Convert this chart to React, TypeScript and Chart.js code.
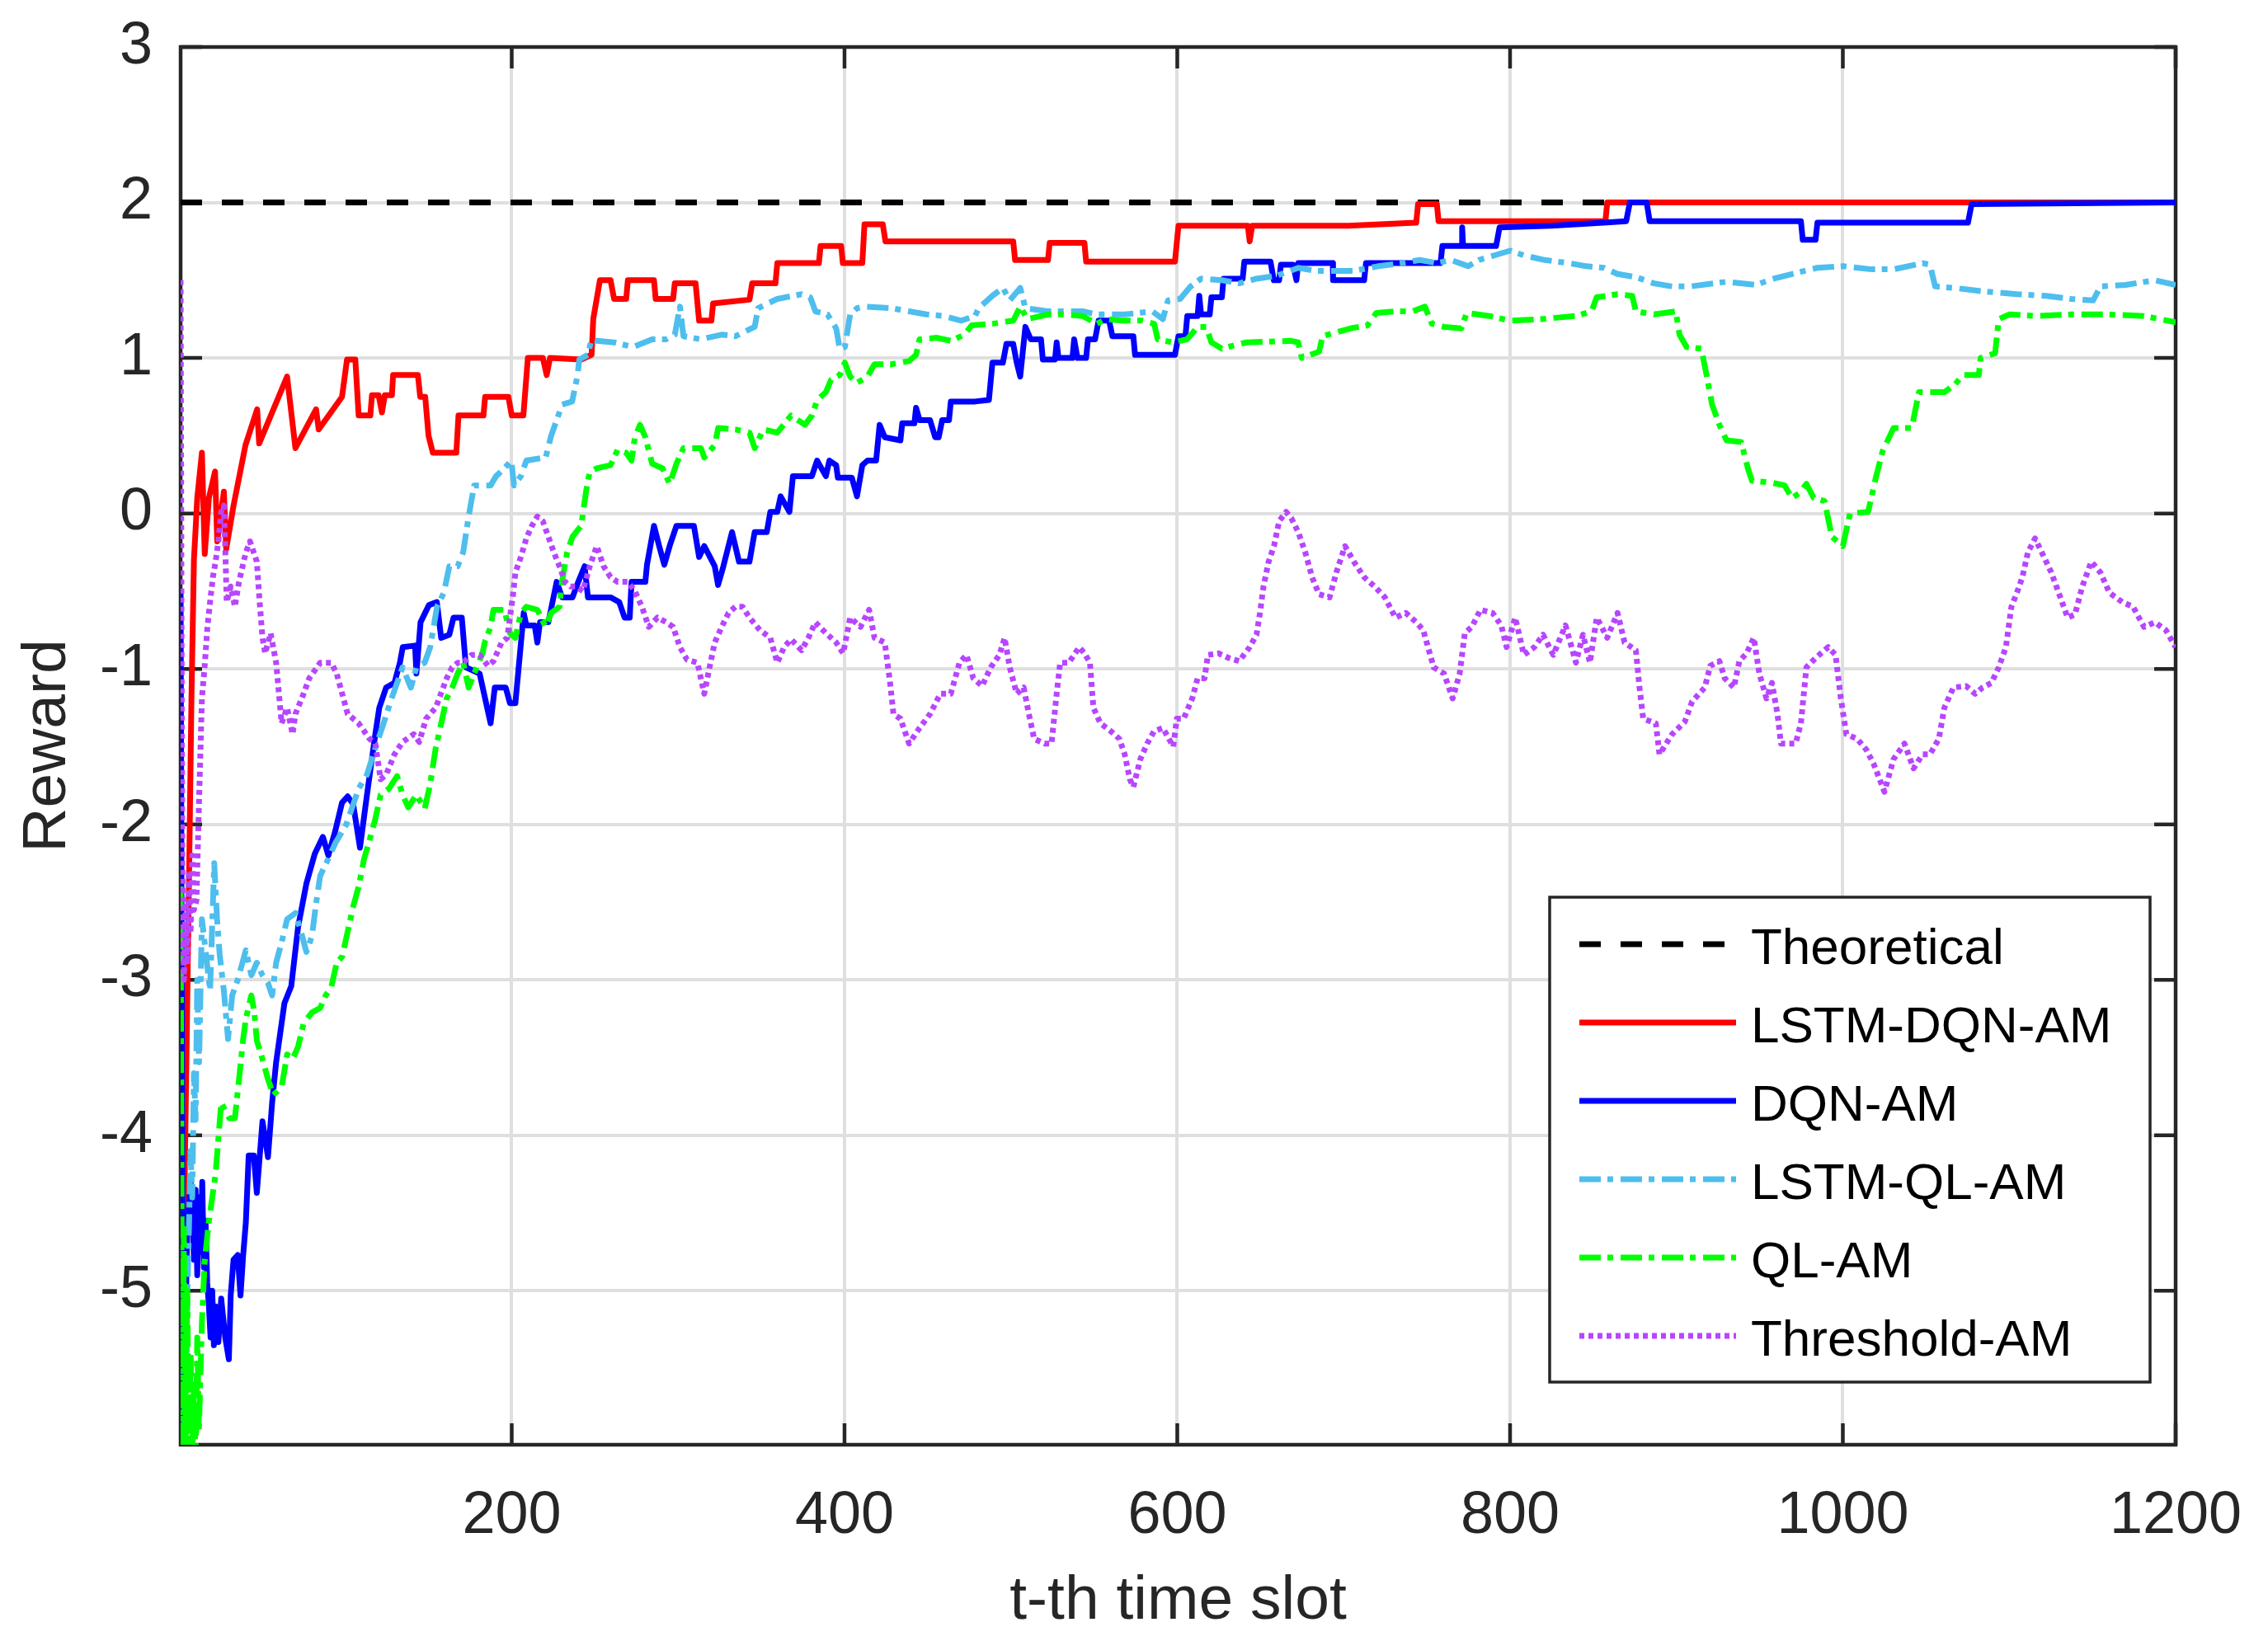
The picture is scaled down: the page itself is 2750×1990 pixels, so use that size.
import React, { useEffect, useRef } from "react";
import { Chart, registerables } from "chart.js";

Chart.register(...registerables);

const xTicks = [200, 400, 600, 800, 1000, 1200];
const yTicks = [-5, -4, -3, -2, -1, 0, 1, 2, 3];

const theoretical: number[][] = [[1, 2], [1200, 2]];

const lstmDqnAm: number[][] = [
  [1, -5.2], [3, -4.6], [4.5, -3.5], [6, -2.4], [7.5, -1.2], [9, -0.3], [11, 0.1], [13.8, 0.39], [15.5, -0.26], [18, 0.1],
  [21.7, 0.27], [23, -0.18], [27, 0.14], [28.4, -0.23], [32.8, 0.05], [40, 0.44], [47, 0.67], [48.2, 0.45], [65, 0.88], [70, 0.42],
  [82.4, 0.67], [84, 0.54], [98, 0.75], [101, 0.99], [106, 0.99], [108, 0.63], [115, 0.63], [116, 0.76], [120, 0.76], [122, 0.65],
  [123.7, 0.76], [128, 0.76], [128.7, 0.89], [143.6, 0.89], [145, 0.75], [148, 0.75], [150, 0.5], [152.6, 0.39], [166.7, 0.39], [168, 0.63],
  [183, 0.63], [184, 0.75], [198, 0.75], [200, 0.63], [207, 0.63], [209.7, 1.0], [218.7, 1.0], [221, 0.89], [223, 1.0], [241.7, 0.99],
  [248, 1.02], [249, 1.25], [253, 1.5], [259.4, 1.5], [261.5, 1.38], [268.8, 1.38], [269.8, 1.5], [285.5, 1.5], [286.5, 1.38], [297, 1.38],
  [298, 1.48], [310.5, 1.48], [312.6, 1.24], [320, 1.24], [321, 1.35], [342.9, 1.375], [344.5, 1.48], [358.5, 1.48], [359.6, 1.61], [384.6, 1.61],
  [385.6, 1.72], [398, 1.72], [399, 1.61], [410.7, 1.61], [412, 1.86], [423, 1.86], [424.6, 1.75], [501.4, 1.75], [502.5, 1.63], [522.3, 1.63],
  [523.3, 1.74], [544.2, 1.74], [545.2, 1.62], [598.6, 1.62], [600.7, 1.85], [642.4, 1.85], [643.5, 1.75], [645, 1.85], [703, 1.85], [743.6, 1.87],
  [744.7, 1.99], [756, 1.99], [757, 1.88], [857.3, 1.88], [858.4, 2.0], [1200, 2.0],
];

const dqnAm: number[][] = [
  [1, -0.5], [2.5, -5.8], [4, -5.2], [5, -4.6], [7, -4.3], [8, -4.4], [9, -4.8], [10, -4.35], [11, -4.9], [12, -4.4],
  [13, -4.75], [14, -4.3], [15, -4.85], [16, -4.55], [17, -4.95], [18, -5.1], [19, -5.3], [20, -5.0], [21, -5.35], [22, -5.1],
  [23.7, -5.33], [25.4, -5.05], [27.8, -5.3], [30, -5.44], [31.1, -5.03], [32.8, -4.8], [35.3, -4.77], [37, -5.03], [38.6, -4.77], [40.2, -4.56],
  [41.9, -4.13], [45, -4.13], [46.8, -4.37], [50.2, -3.91], [53.5, -4.14], [56, -3.79], [58.4, -3.53], [63.4, -3.15], [67.5, -3.04], [71.6, -2.66],
  [76.6, -2.38], [81.6, -2.19], [86.5, -2.08], [89.8, -2.2], [94, -2.04], [98, -1.86], [101.4, -1.82], [104.7, -1.87], [108.8, -2.15], [113, -1.81],
  [118, -1.42], [120.4, -1.25], [124.5, -1.12], [129.5, -1.09], [132.8, -0.96], [134.5, -0.86], [141.9, -0.85], [142.7, -1.03], [145.2, -0.7], [150.2, -0.59],
  [155, -0.57], [157.6, -0.8], [162.5, -0.78], [165, -0.67], [170, -0.67], [172.5, -0.99], [180.7, -1.03], [184, -1.19], [187.3, -1.35], [189.8, -1.12],
  [196.4, -1.12], [198.9, -1.22], [202.2, -1.22], [207.2, -0.64], [208.8, -0.72], [213.8, -0.72], [215.4, -0.83], [217, -0.7], [222, -0.7], [227, -0.44],
  [230.3, -0.54], [236.5, -0.54], [240, -0.44], [243.8, -0.34], [245.8, -0.54], [259.4, -0.54], [264.6, -0.57], [267.8, -0.67], [270.9, -0.67], [272, -0.44],
  [280.3, -0.44], [281.3, -0.33], [285.5, -0.08], [288.6, -0.21], [291.7, -0.33], [294.9, -0.21], [299, -0.08], [309.5, -0.08], [312.6, -0.28], [315.7, -0.21],
  [322, -0.34], [324, -0.46], [327.2, -0.34], [332.4, -0.12], [336.6, -0.31], [342.9, -0.31], [346, -0.12], [353.3, -0.12], [355.4, 0.01], [359.6, 0.01],
  [361.6, 0.11], [366.9, 0.01], [369, 0.24], [380.4, 0.24], [383.5, 0.34], [388.8, 0.24], [390.9, 0.34], [395, 0.31], [396, 0.23], [404.4, 0.23],
  [407.5, 0.11], [410.7, 0.31], [413.8, 0.34], [419, 0.34], [421.1, 0.57], [424.2, 0.49], [433.6, 0.47], [434.7, 0.58], [442, 0.58], [443, 0.68],
  [445.1, 0.6], [451.4, 0.6], [454.5, 0.49], [456.6, 0.49], [458.7, 0.6], [462.8, 0.6], [463.9, 0.72], [478.5, 0.72], [486.8, 0.73], [488.9, 0.97],
  [495.2, 0.97], [497.3, 1.09], [501.4, 1.09], [503.5, 0.97], [505.6, 0.88], [508.7, 1.2], [511.9, 1.12], [518.1, 1.12], [519.2, 0.99], [526.5, 0.99],
  [527.5, 1.1], [528.6, 1.0], [537, 1.0], [538, 1.12], [540, 1.0], [545.2, 1.0], [546.3, 1.12], [550.6, 1.12], [552.7, 1.24], [559, 1.24],
  [561, 1.14], [573.6, 1.14], [574.6, 1.02], [598.6, 1.02], [600.7, 1.14], [604.9, 1.14], [606, 1.27], [612.2, 1.27], [613.2, 1.4], [614.3, 1.28],
  [619.5, 1.28], [620.5, 1.39], [626.8, 1.39], [627.8, 1.51], [639.3, 1.51], [640.3, 1.62], [656, 1.62], [658, 1.5], [661.2, 1.5], [662.3, 1.6],
  [669.6, 1.6], [671.6, 1.5], [672.7, 1.61], [693.5, 1.61], [693.6, 1.5], [712.3, 1.5], [713.4, 1.61], [758.2, 1.61], [759.3, 1.72], [770.8, 1.72],
  [771.2, 1.84], [771.8, 1.72], [791.6, 1.72], [793.7, 1.84], [825, 1.85], [856.3, 1.87], [869.8, 1.88], [872, 2.0], [882.1, 2.0], [883.9, 1.88],
  [974.8, 1.88], [975.9, 1.76], [983.6, 1.76], [984.7, 1.87], [1075.2, 1.87], [1077.4, 1.99], [1200, 2.0],
];

const lstmQlAm: number[][] = [
  [1, -6.5], [3, -6.0], [4.7, -5.2], [6, -4.6], [7, -4.1], [8, -4.4], [9, -3.6], [10, -3.9], [11, -3.0], [12.1, -3.53],
  [13.8, -2.61], [16.3, -2.84], [18.7, -3.07], [21.2, -2.25], [22.9, -2.61], [24.5, -2.84], [27, -3.07], [29.5, -3.38], [32, -3.1], [35.3, -3.0],
  [40.2, -2.81], [43.5, -2.97], [46.8, -2.89], [50.2, -2.97], [53.5, -3.02], [56, -3.1], [58.4, -2.89], [61.7, -2.76], [65, -2.61], [70, -2.57],
  [73.3, -2.69], [76.6, -2.82], [79.9, -2.72], [82.4, -2.51], [84.9, -2.33], [89.8, -2.22], [94, -2.12], [100.6, -2.0], [108, -1.77], [113, -1.68],
  [118, -1.51], [123, -1.35], [127.8, -1.19], [134.4, -0.99], [139.4, -1.12], [142.7, -0.99], [147.7, -0.96], [151, -0.86], [155.1, -0.6], [159.2, -0.51],
  [162.5, -0.34], [167.5, -0.34], [170.8, -0.25], [174.1, -0.02], [177.4, 0.18], [187.3, 0.18], [190.6, 0.24], [195.6, 0.29], [199.7, 0.34], [201.4, 0.18],
  [205.5, 0.24], [208.8, 0.34], [220.4, 0.36], [223.7, 0.5], [227, 0.6], [230.3, 0.7], [236.3, 0.72], [239.6, 0.89], [240.6, 0.99], [245.8, 1.02],
  [247.9, 1.12], [251, 1.11], [261.5, 1.1], [273, 1.07], [284.4, 1.12], [292.8, 1.12], [298, 1.15], [301.1, 1.33], [303.2, 1.14], [313.7, 1.12],
  [326.2, 1.15], [334.5, 1.14], [346, 1.2], [348.1, 1.32], [359.6, 1.38], [374.2, 1.41], [379.4, 1.39], [382.5, 1.3], [389.8, 1.28], [395, 1.19],
  [397.1, 1.06], [400.2, 1.07], [403.4, 1.28], [407.5, 1.32], [411.7, 1.33], [428.4, 1.32], [438.8, 1.3], [449.3, 1.28], [459.7, 1.27], [470.1, 1.24],
  [478.5, 1.27], [480.6, 1.32], [488.9, 1.4], [495.2, 1.45], [499.3, 1.37], [505.6, 1.45], [508.7, 1.32], [522.3, 1.3], [543.2, 1.3], [551.5, 1.28],
  [568.4, 1.28], [585, 1.3], [591.3, 1.25], [594.4, 1.37], [601.7, 1.38], [608, 1.46], [614.3, 1.51], [626.8, 1.5], [637.2, 1.48], [647.6, 1.51],
  [660.2, 1.53], [672.7, 1.58], [683.1, 1.56], [706.1, 1.56], [720.7, 1.59], [735.3, 1.61], [745.7, 1.63], [756.1, 1.61], [764.5, 1.63], [774.9, 1.59],
  [781.2, 1.63], [793.7, 1.67], [800, 1.69], [808.3, 1.66], [820.8, 1.63], [835.4, 1.61], [845.8, 1.59], [856.3, 1.58], [864.6, 1.54], [875.6, 1.52],
  [886.5, 1.48], [897.4, 1.46], [908.3, 1.46], [930.1, 1.49], [947.6, 1.47], [958.5, 1.51], [969.4, 1.54], [984.7, 1.58], [1000, 1.59], [1017.4, 1.57],
  [1030.5, 1.57], [1047.9, 1.61], [1052.3, 1.6], [1055.5, 1.46], [1067.5, 1.45], [1082.8, 1.43], [1104.6, 1.41], [1122, 1.4], [1137.3, 1.38], [1150.4, 1.37],
  [1154.8, 1.46], [1170, 1.47], [1187.5, 1.5], [1200, 1.47],
];

const qlAm: number[][] = [
  [1, -2.4], [2, -6.2], [3, -4.6], [4, -6.1], [5, -5.0], [6, -6.1], [7, -5.4], [8, -6.1], [9, -5.6], [10, -6.1],
  [11, -5.3], [12, -5.9], [13.8, -5.2], [15.4, -4.82], [17.9, -4.56], [19.6, -4.43], [22, -4.25], [23.7, -4.02], [25.4, -3.79], [30.3, -3.89],
  [33.6, -3.89], [36.1, -3.64], [38.6, -3.38], [40.2, -3.25], [43.5, -3.1], [45.2, -3.2], [46.8, -3.39], [50.2, -3.51], [53.5, -3.64], [56.8, -3.74],
  [61.7, -3.69], [65, -3.48], [68.3, -3.51], [71.6, -3.43], [74.9, -3.28], [79.9, -3.21], [84.9, -3.18], [88.2, -3.1], [91.5, -3.05], [94.8, -2.89],
  [98.1, -2.85], [101.4, -2.69], [104.7, -2.53], [108, -2.4], [111.3, -2.22], [114.6, -2.1], [117.9, -1.97], [121.2, -1.81], [126.2, -1.77], [131.1, -1.69],
  [134.4, -1.81], [137.8, -1.89], [142.7, -1.81], [147.7, -1.9], [151, -1.74], [154.3, -1.51], [157.6, -1.35], [160.9, -1.19], [164.2, -1.12], [167.5, -1.03],
  [170.8, -0.96], [174.1, -1.12], [177.4, -1.03], [182.4, -0.9], [184, -0.82], [187.3, -0.73], [189, -0.62], [195.6, -0.62], [198.9, -0.77], [202.2, -0.8],
  [205.5, -0.64], [208.8, -0.6], [215.4, -0.62], [220.4, -0.73], [223.7, -0.64], [228.7, -0.6], [230.2, -0.44], [233.3, -0.25], [236.5, -0.15], [241.7, -0.08],
  [244.8, 0.15], [246.9, 0.27], [251.1, 0.29], [259.4, 0.31], [263.6, 0.41], [268.8, 0.39], [272, 0.34], [274, 0.49], [277.1, 0.57], [280.3, 0.49],
  [284.4, 0.32], [290.7, 0.29], [294.9, 0.19], [299, 0.32], [303.2, 0.42], [313.7, 0.42], [315.7, 0.36], [322, 0.44], [324.1, 0.55], [334.5, 0.54],
  [342.9, 0.52], [346, 0.42], [351.2, 0.54], [359.6, 0.52], [367.9, 0.63], [376.2, 0.57], [380.4, 0.63], [383.6, 0.73], [388.8, 0.78], [391.9, 0.86],
  [397.1, 0.89], [400.2, 0.97], [403.4, 0.88], [407.5, 0.84], [413.8, 0.88], [418, 0.96], [428.4, 0.96], [438.8, 0.98], [443, 1.02], [445.1, 1.12],
  [455.5, 1.13], [463.9, 1.11], [472.2, 1.15], [476.4, 1.21], [488.9, 1.22], [501.4, 1.24], [505.6, 1.33], [509.8, 1.25], [522.3, 1.28], [532.7, 1.28],
  [543.2, 1.27], [551.5, 1.22], [557.3, 1.25], [566.3, 1.24], [578.8, 1.24], [586.1, 1.22], [588.2, 1.12], [597.6, 1.1], [605.9, 1.12], [612.2, 1.2],
  [617.4, 1.2], [620.5, 1.1], [626.8, 1.06], [641.4, 1.1], [668.5, 1.11], [672.7, 1.1], [674.8, 1.0], [685.2, 1.04], [687.3, 1.14], [704, 1.19],
  [714.4, 1.21], [719.6, 1.29], [731, 1.3], [741.5, 1.3], [748.8, 1.33], [753, 1.22], [760.3, 1.2], [770.7, 1.19], [773.9, 1.29], [787.4, 1.27],
  [800, 1.24], [818.7, 1.25], [839.6, 1.27], [849, 1.3], [852, 1.39], [864.6, 1.41], [873.4, 1.4], [875.6, 1.3], [886.5, 1.28], [899.6, 1.3],
  [901.8, 1.15], [906.1, 1.07], [914.9, 1.06], [918.1, 0.89], [921.4, 0.7], [925.8, 0.57], [930.1, 0.47], [938.9, 0.46], [943.2, 0.28], [945.4, 0.21],
  [956.3, 0.2], [965, 0.18], [969.4, 0.1], [973.8, 0.13], [978.1, 0.19], [982.5, 0.1], [989, 0.08], [993.4, -0.15], [1000, -0.21], [1004.3, 0.0],
  [1015.2, 0.01], [1019.6, 0.22], [1023.9, 0.4], [1030.5, 0.55], [1041.4, 0.55], [1045.7, 0.78], [1061, 0.78], [1067.5, 0.83], [1071.9, 0.89], [1081.7, 0.89],
  [1082.8, 1.0], [1091.5, 1.03], [1093.7, 1.25], [1100.2, 1.28], [1115.5, 1.27], [1137.3, 1.28], [1159.1, 1.28], [1181, 1.27], [1200, 1.23],
];

const thresholdAm: number[][] = [
  [1, 1.5], [1.5, -0.5], [2, -2.2], [3, -3.0], [4, -2.5], [5, -2.9], [6, -2.3], [7, -2.7], [8, -2.2], [9, -2.55],
  [10.5, -2.49], [12.1, -1.84], [13.8, -1.19], [15.4, -0.99], [17.1, -0.73], [18.7, -0.57], [20.4, -0.41], [22, -0.31], [23.7, -0.18], [25.4, 0.01],
  [27, 0.05], [27.8, -0.21], [28.7, -0.57], [31.1, -0.47], [33.6, -0.6], [36.1, -0.44], [40.2, -0.25], [42.7, -0.18], [46.8, -0.31], [48.5, -0.57],
  [50.2, -0.8], [51.8, -0.9], [55.1, -0.77], [58.4, -0.96], [60.1, -1.16], [61.7, -1.35], [65, -1.25], [68.3, -1.42], [70, -1.29], [74.9, -1.16],
  [78.3, -1.06], [84.9, -0.96], [91.5, -0.96], [94.8, -1.03], [98.1, -1.16], [101.4, -1.29], [104.7, -1.32], [108, -1.35], [114.6, -1.45], [118, -1.48],
  [121.2, -1.71], [124.5, -1.68], [129.5, -1.55], [134.4, -1.47], [141.1, -1.42], [144.4, -1.47], [148.5, -1.32], [154.3, -1.25], [160.9, -1.06], [164.2, -0.99],
  [167.5, -0.96], [170.8, -0.96], [175.8, -0.91], [180.7, -0.91], [185.7, -0.98], [189, -0.95], [193.9, -0.83], [197.3, -0.8], [198.9, -0.67], [200.6, -0.54],
  [202.2, -0.38], [205.5, -0.28], [208.8, -0.16], [212.1, -0.08], [215.4, -0.02], [218.7, -0.05], [222, -0.15], [225.3, -0.25], [228.7, -0.34], [232, -0.44],
  [235.3, -0.47], [238.6, -0.47], [242.7, -0.5], [246.9, -0.34], [251.1, -0.21], [255.2, -0.34], [259.4, -0.41], [263.6, -0.44], [269.8, -0.44], [274, -0.5],
  [278.2, -0.6], [282.4, -0.73], [287.6, -0.67], [292.8, -0.7], [297, -0.73], [301.1, -0.86], [305.3, -0.94], [311.6, -0.96], [315.7, -1.16], [318.9, -0.99],
  [322, -0.83], [326.2, -0.73], [330.3, -0.64], [334.5, -0.6], [338.7, -0.6], [342.9, -0.67], [349.1, -0.75], [355.4, -0.8], [359.6, -0.96], [363.7, -0.86],
  [367.9, -0.81], [374.2, -0.88], [378.3, -0.8], [382.5, -0.7], [388.8, -0.77], [395, -0.83], [399.2, -0.9], [403.4, -0.67], [409.6, -0.73], [414.8, -0.62],
  [418, -0.8], [424.2, -0.83], [427.4, -1.09], [429.4, -1.29], [433.6, -1.32], [438.8, -1.48], [445.1, -1.38], [451.4, -1.29], [457.6, -1.16], [463.9, -1.16],
  [469.1, -0.96], [473.3, -0.91], [477.4, -1.06], [482.7, -1.11], [487.9, -0.99], [493.1, -0.91], [496.2, -0.8], [499.3, -0.99], [503.5, -1.16], [507.7, -1.12],
  [510.8, -1.29], [514, -1.45], [520.2, -1.48], [524.4, -1.48], [527.5, -1.16], [529.6, -0.96], [534.8, -0.96], [541.1, -0.86], [544.2, -0.9], [547.5, -0.96],
  [549.6, -1.25], [553.8, -1.35], [560, -1.4], [565.2, -1.45], [568.4, -1.55], [571.5, -1.71], [573.6, -1.76], [577.8, -1.58], [581.9, -1.48], [586.1, -1.4],
  [591.3, -1.38], [597.6, -1.5], [599.7, -1.32], [603.8, -1.32], [609, -1.19], [612.2, -1.06], [616.4, -1.06], [618.4, -0.91], [624.7, -0.9], [631, -0.93],
  [637.2, -0.95], [643.5, -0.86], [647.6, -0.78], [649.7, -0.64], [651.8, -0.47], [654.9, -0.31], [658.1, -0.21], [661.2, -0.05], [665.4, 0.01], [668.5, -0.03],
  [672.7, -0.12], [676.9, -0.25], [681, -0.41], [685.2, -0.52], [691.5, -0.54], [695.6, -0.38], [700.8, -0.21], [706.1, -0.31], [712.3, -0.41], [718.6, -0.47],
  [724.8, -0.54], [731.1, -0.67], [737.4, -0.64], [743.6, -0.7], [747.8, -0.75], [752, -0.91], [754.1, -0.99], [760.3, -1.03], [765.5, -1.19], [769.7, -1.03],
  [772.8, -0.77], [777, -0.73], [782.2, -0.62], [789.5, -0.64], [794.7, -0.72], [797.9, -0.86], [803.1, -0.67], [808.3, -0.91], [814.6, -0.86], [819.8, -0.78],
  [826, -0.91], [833.3, -0.72], [839.6, -0.96], [843.8, -0.78], [848, -0.96], [852.1, -0.67], [858.4, -0.8], [864.6, -0.64], [868.8, -0.83], [875.6, -0.88],
  [877.8, -1.12], [880, -1.32], [887.6, -1.35], [889.8, -1.55], [897.4, -1.42], [905, -1.34], [909.4, -1.21], [917, -1.12], [920.3, -0.98], [925.8, -0.95],
  [929, -1.06], [934.5, -1.12], [937.8, -0.95], [942.1, -0.9], [946.5, -0.8], [949.8, -1.03], [954.1, -1.19], [957.4, -1.09], [960.7, -1.29], [962.8, -1.48],
  [971.6, -1.48], [974.8, -1.35], [978.1, -0.99], [983.6, -0.93], [991.2, -0.86], [995.6, -0.91], [998.8, -1.19], [1002.1, -1.42], [1008.6, -1.45], [1014.1, -1.52],
  [1018.5, -1.61], [1025, -1.79], [1030.5, -1.58], [1037, -1.48], [1042.5, -1.64], [1047.9, -1.55], [1052.3, -1.55], [1057.7, -1.45], [1061, -1.25], [1066.4, -1.12],
  [1074.1, -1.11], [1079.5, -1.16], [1083.9, -1.12], [1089.3, -1.09], [1093.7, -0.99], [1098, -0.86], [1101.3, -0.6], [1104.6, -0.51], [1107.9, -0.41], [1111.2, -0.25],
  [1115.5, -0.16], [1120, -0.26], [1125.3, -0.38], [1129.7, -0.51], [1135.1, -0.67], [1139.5, -0.65], [1143.9, -0.47], [1149.3, -0.31], [1154.8, -0.38], [1160.2, -0.51],
  [1167.9, -0.57], [1174.4, -0.6], [1181, -0.73], [1187.5, -0.7], [1194.1, -0.75], [1200, -0.86],
];

const FONT = '"Liberation Sans", Arial, Helvetica, sans-serif';
const AXIS_COLOR = "#262626";
const GRID_COLOR = "#dfdfdf";

const toPoints = (arr: number[][]) => arr.map(([x, y]) => ({ x, y }));

const boxPlugin = {
  id: "matlabBox",
  beforeDatasetsDraw(chart: any) {
    const { ctx, chartArea } = chart;
    const { left, right, top, bottom } = chartArea;
    const xs = chart.scales.x;
    const ys = chart.scales.y;
    const tl = 26;
    ctx.save();
    ctx.strokeStyle = AXIS_COLOR;
    ctx.lineWidth = 4.5;
    ctx.setLineDash([]);
    ctx.beginPath();
    xTicks.forEach((v) => {
      const px = xs.getPixelForValue(v);
      ctx.moveTo(px, bottom);
      ctx.lineTo(px, bottom - tl);
      ctx.moveTo(px, top);
      ctx.lineTo(px, top + tl);
    });
    yTicks.forEach((v) => {
      const py = ys.getPixelForValue(v);
      ctx.moveTo(left, py);
      ctx.lineTo(left + tl, py);
      ctx.moveTo(right, py);
      ctx.lineTo(right - tl, py);
    });
    ctx.stroke();
    ctx.strokeRect(left, top, right - left, bottom - top);
    ctx.restore();
  },
};

const legendPlugin = {
  id: "matlabLegend",
  afterDraw(chart: any) {
    const { ctx } = chart;
    const bx = 1879, by = 1088, bw = 728, bh = 588;
    ctx.save();
    ctx.fillStyle = "#ffffff";
    ctx.fillRect(bx, by, bw, bh);
    ctx.strokeStyle = AXIS_COLOR;
    ctx.lineWidth = 3.5;
    ctx.setLineDash([]);
    ctx.strokeRect(bx, by, bw, bh);
    chart.data.datasets.forEach((ds: any, i: number) => {
      const y = 1145 + i * 95;
      ctx.beginPath();
      ctx.setLineDash(ds.borderDash || []);
      ctx.lineCap = "butt";
      ctx.strokeStyle = ds.borderColor;
      ctx.lineWidth = ds.borderWidth;
      ctx.moveTo(1915, y);
      ctx.lineTo(2105, y);
      ctx.stroke();
      ctx.setLineDash([]);
      ctx.fillStyle = "#000000";
      ctx.font = `62px ${FONT}`;
      ctx.textBaseline = "alphabetic";
      ctx.textAlign = "left";
      ctx.fillText(ds.label, 2123, y + 24);
    });
    ctx.restore();
  },
};

export default function App() {
  const ref = useRef<HTMLCanvasElement | null>(null);

  useEffect(() => {
    document.body.style.margin = "0";
    const canvas = ref.current;
    if (!canvas) return;
    const common = { pointRadius: 0, tension: 0, fill: false, borderJoinStyle: "round" as const };
    const chart = new Chart(canvas, {
      type: "line",
      data: {
        datasets: [
          { ...common, label: "Theoretical", data: toPoints(theoretical), borderColor: "#000000", borderWidth: 7, borderDash: [26, 24], order: 6 },
          { ...common, label: "LSTM-DQN-AM", data: toPoints(lstmDqnAm), borderColor: "#ff0000", borderWidth: 7, order: 5 },
          { ...common, label: "DQN-AM", data: toPoints(dqnAm), borderColor: "#0000ff", borderWidth: 7, order: 4 },
          { ...common, label: "LSTM-QL-AM", data: toPoints(lstmQlAm), borderColor: "#4dbeee", borderWidth: 7, borderDash: [26, 8, 7, 9], order: 3 },
          { ...common, label: "QL-AM", data: toPoints(qlAm), borderColor: "#00ff00", borderWidth: 7, borderDash: [26, 8, 7, 9], order: 2 },
          { ...common, label: "Threshold-AM", data: toPoints(thresholdAm), borderColor: "#b746ff", borderWidth: 7, borderDash: [6, 5], order: 1 },
        ],
      },
      options: {
        responsive: false,
        maintainAspectRatio: false,
        animation: false,
        devicePixelRatio: 1,
        events: [],
        layout: { padding: { left: 0, top: 57, right: 112, bottom: 0 } },
        plugins: { legend: { display: false }, tooltip: { enabled: false } },
        scales: {
          x: {
            type: "linear",
            min: 1,
            max: 1200,
            afterBuildTicks: (s: any) => { s.ticks = xTicks.map((v) => ({ value: v })); },
            afterFit: (s: any) => { s.height = 238; },
            grid: { color: GRID_COLOR, lineWidth: 4, drawTicks: false },
            border: { display: false },
            ticks: {
              color: AXIS_COLOR,
              font: { family: FONT, size: 72, lineHeight: 1.6 },
              padding: 30,
              maxRotation: 0,
              autoSkip: false,
              callback: (v: any) => String(v),
            },
            title: {
              display: true,
              text: "t-th time slot",
              color: AXIS_COLOR,
              font: { family: FONT, size: 75, lineHeight: 1 },
              padding: { top: 0, bottom: 10 },
            },
          },
          y: {
            type: "linear",
            min: -5.99,
            max: 3,
            afterBuildTicks: (s: any) => { s.ticks = yTicks.map((v) => ({ value: v })); },
            afterFit: (s: any) => { s.width = 219; },
            grid: { color: GRID_COLOR, lineWidth: 4, drawTicks: false },
            border: { display: false },
            ticks: {
              color: AXIS_COLOR,
              font: { family: FONT, size: 72, lineHeight: 0.3 },
              padding: 34,
              autoSkip: false,
              callback: (v: any) => String(v),
            },
            title: {
              display: true,
              text: "Reward",
              color: AXIS_COLOR,
              font: { family: FONT, size: 75, lineHeight: 1 },
              padding: { top: 21, bottom: 0 },
            },
          },
        },
      },
      plugins: [boxPlugin, legendPlugin],
    });
    return () => chart.destroy();
  }, []);

  return (
    <div style={{ width: 2750, height: 1990, background: "#ffffff" }}>
      <canvas ref={ref} width={2750} height={1990} style={{ display: "block", width: 2750, height: 1990 }} />
    </div>
  );
}
